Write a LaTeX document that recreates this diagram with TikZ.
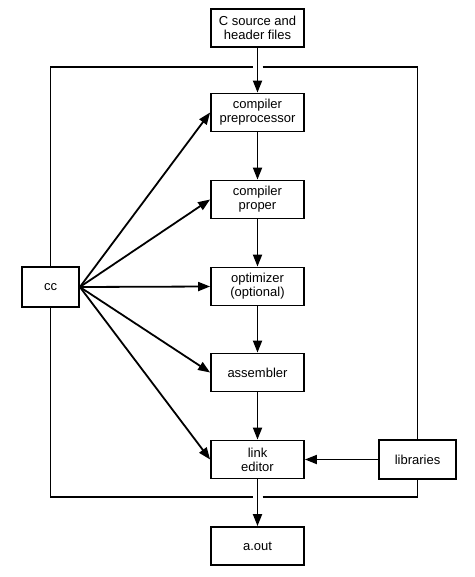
\documentclass[tikz,border=0pt]{standalone}
\usepackage{fontspec}
\setmainfont{Liberation Sans}
\usetikzlibrary{arrows.meta,calc}
\begin{document}
\begin{tikzpicture}[x=1pt,y=-1pt,
  stage/.style={draw, line width=1.8pt, minimum width=93pt, minimum height=38pt,
    inner sep=1pt, align=center, font=\fontsize{13}{14}\selectfont},
  flow/.style={line width=1.8pt, -{Triangle[length=12pt,width=9pt]}},
  frame/.style={line width=1.2pt}]
\useasboundingbox (0,0) rectangle (474,577);

% compilation stages
\node[stage] (src)    at (257.5,28)    {C source and\\header files};
\node[stage] (pre)    at (257.5,112.5) {compiler\\preprocessor};
\node[stage] (proper) at (257.5,199.5) {compiler\\proper};
\node[stage] (opt)    at (257.5,286.5) {optimizer\\(optional)};
\node[stage] (asm)    at (257.5,372.5) {assembler};
\node[stage] (link)   at (257.5,459.5) {link\\editor};
\node[stage] (aout)   at (257.5,546)   {a.out};
\node[stage, minimum width=57pt, minimum height=40pt] (cc)  at (50.5,287)  {cc};
\node[stage, minimum width=77pt, minimum height=39pt] (lib) at (417.5,459.5) {libraries};

% enclosing frame through cc and libraries
\coordinate (tl) at (cc.north |- 0,67);
\coordinate (tr) at (lib.north |- 0,67);
\coordinate (bl) at (cc.south |- 0,497);
\coordinate (br) at (lib.south |- 0,497);
\coordinate (tgapL) at ($(src.south |- tl)+(-5,0)$);
\coordinate (tgapR) at ($(src.south |- tl)+(5,0)$);
\coordinate (bgapL) at ($(link.south |- bl)+(-5,0)$);
\coordinate (bgapR) at ($(link.south |- bl)+(5,0)$);
\draw[frame] (cc.north) -- (tl) -- (tgapL);
\draw[frame] (tgapR) -- (tr) -- (lib.north);
\draw[frame] (cc.south) -- (bl) -- (bgapL);
\draw[frame] (bgapR) -- (br) -- (lib.south);

% main pipeline
\draw[flow] (src) -- (pre);
\draw[flow] (pre) -- (proper);
\draw[flow] (proper) -- (opt);
\draw[flow] (opt) -- (asm);
\draw[flow] (asm) -- (link);
\draw[flow] (link) -- (aout);
\draw[flow] (lib) -- (link);

% driver invocations
\foreach \t in {pre,proper,opt,asm,link}
  \draw[flow] (cc.east) -- (\t.west);
\end{tikzpicture}
\end{document}
